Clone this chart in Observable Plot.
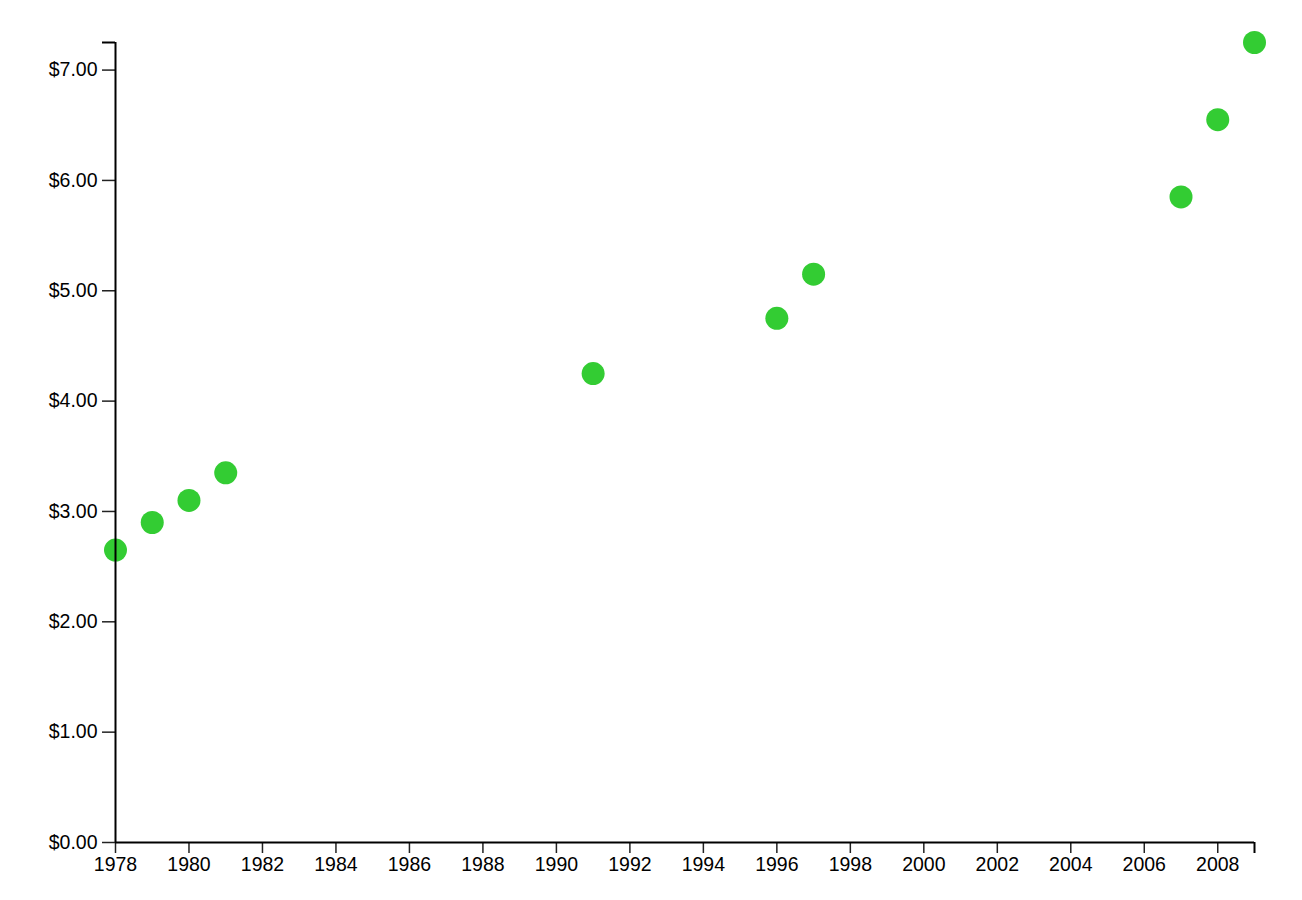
<!DOCTYPE html>
<html>
<head>
<meta charset="utf-8">
<script src="https://cdn.jsdelivr.net/npm/d3@7"></script>
<script src="https://cdn.jsdelivr.net/npm/@observablehq/plot@0.6"></script>
<style>
  html, body { margin: 0; padding: 0; background: #fff; }
  #chart svg { display: block; }
</style>
</head>
<body>
<div id="chart"></div>
<script>
// Federal minimum wage by year of change
const years = [1978, 1979, 1980, 1981, 1991, 1996, 1997, 2007, 2008, 2009];
const wages = [2.65, 2.90, 3.10, 3.35, 4.25, 4.75, 5.15, 5.85, 6.55, 7.25];

const xDomain = [1978, 2009];
const yDomain = [0, 7.25];
const xTicks = [1978, 1980, 1982, 1984, 1986, 1988, 1990, 1992, 1994, 1996, 1998, 2000, 2002, 2004, 2006, 2008];
const yTicks = [0, 1, 2, 3, 4, 5, 6, 7];

const data = years.map((y, i) => ({year: y, wage: wages[i]}));

const chart = Plot.plot({
  width: 1302,
  height: 900,
  marginLeft: 115,
  marginRight: 48,
  marginTop: 42,
  marginBottom: 58,
  style: {fontFamily: "'Liberation Sans', Arial, Helvetica, sans-serif", fontSize: "19.5px", color: "#000", background: "#fff"},
  x: {domain: xDomain, label: null},
  y: {domain: yDomain, label: null},
  marks: [
    Plot.dot(data, {x: "year", y: "wage", r: 11.5, fill: "#33cc33", stroke: "none"}),
    Plot.axisX({ticks: xTicks, tickSize: 11, tickPadding: 4, tickFormat: d => String(d), stroke: "#222", strokeWidth: 1.5, label: null, fontSize: 19.5}),
    Plot.axisY({ticks: yTicks, tickSize: 13, tickPadding: 5, tickFormat: d => "$" + d3.format(".2f")(d), stroke: "#222", strokeWidth: 1.5, label: null, fontSize: 19.5}),
    // x domain line with outer tick at the end
    Plot.ruleY([yDomain[0]], {x1: xDomain[0], x2: xDomain[1], stroke: "#000", strokeWidth: 2}),
    Plot.ruleX([xDomain[1]], {y1: yDomain[0], y2: yDomain[0], insetTop: 0, insetBottom: -11, stroke: "#000", strokeWidth: 2}),
    // y domain line with outer tick at the top
    Plot.ruleX([xDomain[0]], {y1: yDomain[0], y2: yDomain[1], stroke: "#000", strokeWidth: 2}),
    Plot.ruleY([yDomain[1]], {x1: xDomain[0], x2: xDomain[0], insetLeft: -13, insetRight: 0, stroke: "#000", strokeWidth: 2})
  ]
});

document.getElementById("chart").appendChild(chart);
</script>
</body>
</html>
